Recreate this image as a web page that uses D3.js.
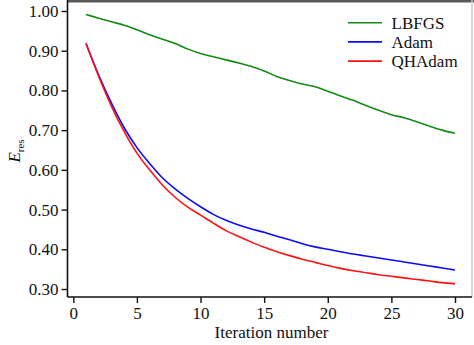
<!DOCTYPE html>
<html>
<head>
<meta charset="utf-8">
<script src="https://cdn.jsdelivr.net/npm/d3@7"></script>
<style>
  html, body { margin: 0; padding: 0; background: #fff; }
  svg { display: block; }
  text { font-family: "Liberation Serif", "Times New Roman", serif; fill: #111; }
</style>
</head>
<body>
<svg id="chart" width="474" height="345"></svg>
<script>
// Residual error per iteration for three optimisers
const iterations = d3.range(1, 31);
const lbfgs = [0.991, 0.982, 0.973, 0.964, 0.953, 0.940, 0.929, 0.918, 0.904, 0.893,
               0.885, 0.877, 0.869, 0.860, 0.849, 0.835, 0.825, 0.816, 0.809, 0.798,
               0.786, 0.775, 0.762, 0.750, 0.739, 0.731, 0.721, 0.710, 0.700, 0.692];
const adam = [0.918, 0.838, 0.768, 0.706, 0.656, 0.616, 0.580, 0.552, 0.528, 0.507,
              0.488, 0.473, 0.461, 0.451, 0.443, 0.433, 0.424, 0.414, 0.406, 0.400,
              0.394, 0.388, 0.383, 0.378, 0.373, 0.368, 0.363, 0.358, 0.353, 0.348];
const qhadam = [0.918, 0.835, 0.760, 0.696, 0.642, 0.600, 0.562, 0.531, 0.506, 0.486,
                0.466, 0.447, 0.432, 0.418, 0.405, 0.394, 0.384, 0.375, 0.367, 0.359,
                0.352, 0.346, 0.341, 0.336, 0.332, 0.328, 0.324, 0.320, 0.316, 0.313];
const seriesNames = ["LBFGS", "Adam", "QHAdam"];
const seriesColors = ["#138a13", "#0a0aff", "#ff1010"];
const xTicks = [0, 5, 10, 15, 20, 25, 30];
const yTicks = [0.30, 0.40, 0.50, 0.60, 0.70, 0.80, 0.90, 1.00];

const svg = d3.select("#chart");
const plotLeft = 67.5, plotRight = 472, plotBottom = 297;

const x = d3.scaleLinear().domain([0, 30]).range([73.3, 455]);
const y = d3.scaleLinear().domain([0.30, 1.00]).range([289, 11]);

// frame: grey top and right edges
svg.append("line").attr("x1", plotLeft).attr("x2", 474).attr("y1", 1).attr("y2", 1)
  .attr("stroke", "#5a5a5a").attr("stroke-width", 3);
svg.append("line").attr("x1", plotRight).attr("x2", plotRight).attr("y1", 0).attr("y2", plotBottom)
  .attr("stroke", "#c8c8c8").attr("stroke-width", 1.5);

// lines
const line = d3.line().x((d, i) => x(iterations[i])).y(d => y(d)).curve(d3.curveMonotoneX);
[lbfgs, adam, qhadam].forEach((vals, k) => {
  svg.append("path").datum(vals)
    .attr("d", line)
    .attr("fill", "none")
    .attr("stroke", seriesColors[k])
    .attr("stroke-width", 1.6);
});

// axes
const xAxis = d3.axisBottom(x).tickValues(xTicks).tickFormat(d3.format("d"))
  .tickSizeInner(6).tickSizeOuter(0).tickPadding(4);
const gx = svg.append("g").attr("transform", `translate(0,${plotBottom})`).call(xAxis);
gx.select(".domain").remove();
gx.selectAll(".tick line").attr("stroke", "#111").attr("stroke-width", 1.4);
gx.selectAll(".tick text").attr("font-size", 17).attr("font-family", "Liberation Serif");

const yAxis = d3.axisLeft(y).tickValues(yTicks).tickFormat(d3.format(".2f"))
  .tickSizeInner(6).tickSizeOuter(0).tickPadding(3);
const gy = svg.append("g").attr("transform", `translate(${plotLeft},0)`).call(yAxis);
gy.select(".domain").remove();
gy.selectAll(".tick line").attr("stroke", "#111").attr("stroke-width", 1.4);
gy.selectAll(".tick text").attr("font-size", 17).attr("font-family", "Liberation Serif");

// axis lines
svg.append("line").attr("x1", plotLeft).attr("x2", plotLeft).attr("y1", 0).attr("y2", plotBottom)
  .attr("stroke", "#111").attr("stroke-width", 1.6);
svg.append("line").attr("x1", plotLeft).attr("x2", plotRight).attr("y1", plotBottom).attr("y2", plotBottom)
  .attr("stroke", "#111").attr("stroke-width", 1.6);

// axis titles
svg.append("text").attr("x", 271.5).attr("y", 338).attr("text-anchor", "middle")
  .attr("font-size", 17).text("Iteration number");

const yl = svg.append("text").attr("transform", "translate(20,151) rotate(-90)")
  .attr("text-anchor", "middle").attr("font-size", 17);
yl.append("tspan").attr("font-style", "italic").text("E");
yl.append("tspan").attr("font-size", 11).attr("dy", 4).text("res");

// legend
const legend = svg.append("g");
seriesNames.forEach((name, k) => {
  const ly = 22.7 + k * 19.2;
  legend.append("line").attr("x1", 348).attr("x2", 382).attr("y1", ly).attr("y2", ly)
    .attr("stroke", seriesColors[k]).attr("stroke-width", 1.6);
  legend.append("text").attr("x", 391.5).attr("y", ly + 6).attr("font-size", 17).text(name);
});
</script>
</body>
</html>
